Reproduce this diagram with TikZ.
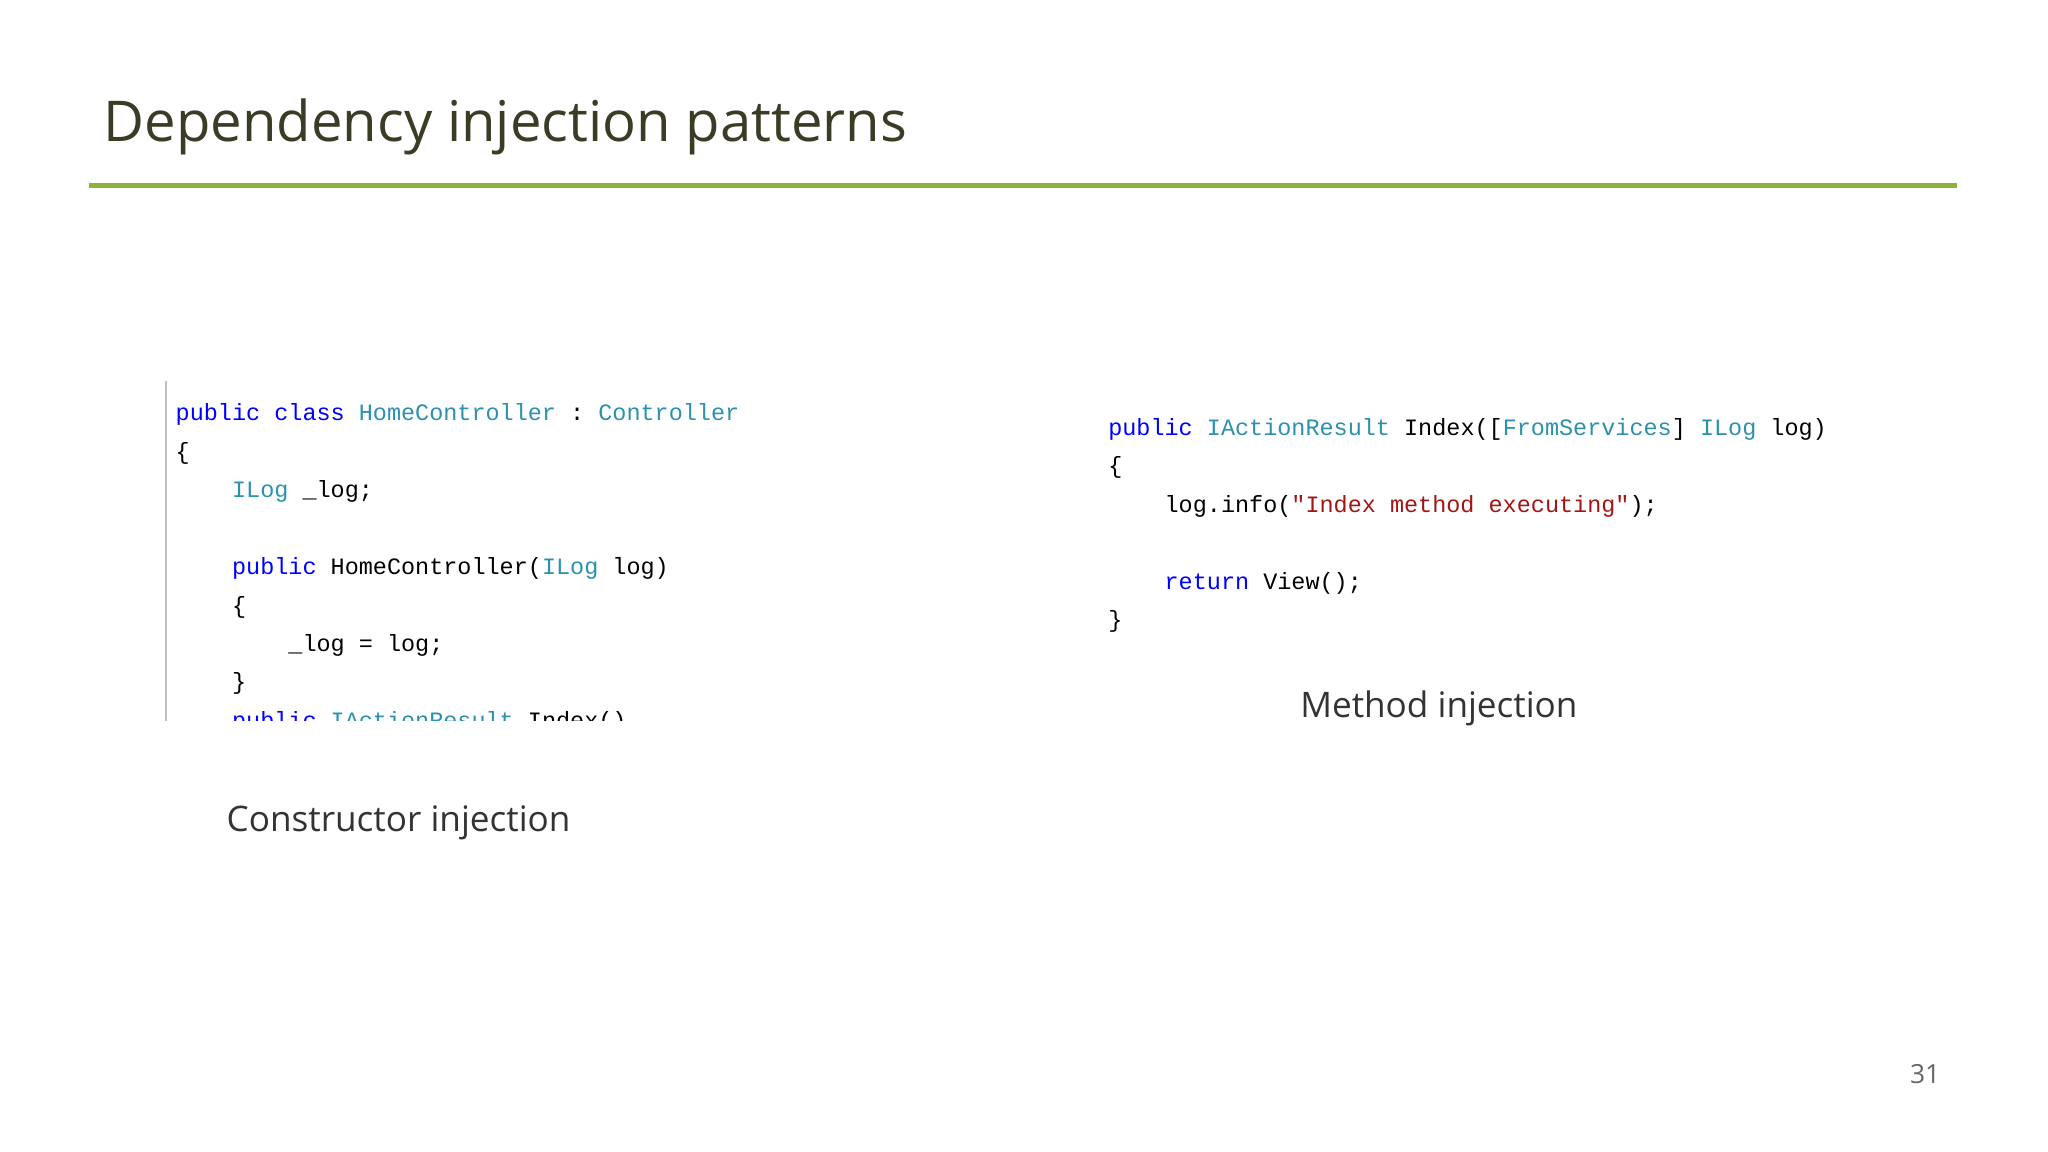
\documentclass[tikz,border=0pt]{standalone}
\usepackage{fontspec}
\setmainfont{Open Sans}
\setmonofont{Liberation Mono}
\definecolor{kw}{HTML}{0000FF}
\definecolor{ty}{HTML}{2B91AF}
\definecolor{st}{HTML}{A31515}
\definecolor{titlec}{HTML}{3B3B26}
\definecolor{rulec}{HTML}{8DB33A}
\newcommand{\K}[1]{\textcolor{kw}{#1}}
\newcommand{\T}[1]{\textcolor{ty}{#1}}
\newcommand{\Sx}[1]{\textcolor{st}{#1}}
\begin{document}
\begin{tikzpicture}[x=0.013061cm,y=-0.013061cm,
  code/.style={anchor=west,inner sep=0pt,font=\ttfamily\fontsize{6.68pt}{8pt}\selectfont},
  lbl/.style={anchor=west,inner sep=0pt,font=\fontsize{10pt}{12pt}\selectfont,text=black!80}]
\useasboundingbox (0,0) rectangle (1568,882);
\node[anchor=base west,inner sep=0pt,text=titlec,font=\fontsize{16pt}{20pt}\selectfont] (title) at (79,108) {Dependency injection patterns};
\draw[rulec,line width=1.4pt] (68,142) coordinate (r1) -- (1498,142) coordinate (r2);
\draw[black!25,line width=0.5pt] (127,292) coordinate (v1) -- (127,552) coordinate (v2);
\begin{scope}
\clip (128,292) rectangle (760,552);
\node[code] (l1) at (134,317) {\K{public} \K{class} \T{HomeController} : \T{Controller}};
\node[code] (l2) at (134,347) {\{};
\node[code] (l3) at (134,376) {\ \ \ \ \T{ILog} \_log;};
\node[code] (l4) at (134,435) {\ \ \ \ \K{public} HomeController(\T{ILog} log)};
\node[code] (l5) at (134,465) {\ \ \ \ \{};
\node[code] (l6) at (134,494) {\ \ \ \ \ \ \ \ \_log = log;};
\node[code] (l7) at (134,523) {\ \ \ \ \}};
\node[code] (l8) at (134,553) {\ \ \ \ \K{public} \T{IActionResult} Index()};
\end{scope}
\node[code] (m1) at (848,329) {\K{public} \T{IActionResult} Index([\T{FromServices}] \T{ILog} log)};
\node[code] (m2) at (848,358) {\{};
\node[code] (m3) at (848,388) {\ \ \ \ log.info(\Sx{"Index method executing"});};
\node[code] (m4) at (848,447) {\ \ \ \ \K{return} View();};
\node[code] (m5) at (848,476) {\}};
\node[lbl] (c) at (173,630) {Constructor injection};
\node[lbl] (m) at (995,542) {Method injection};
\node[anchor=east,inner sep=0pt,text=black!60,font=\fontsize{7.5pt}{9pt}\selectfont] (pg) at (1486,822) {31};
\end{tikzpicture}
\end{document}
